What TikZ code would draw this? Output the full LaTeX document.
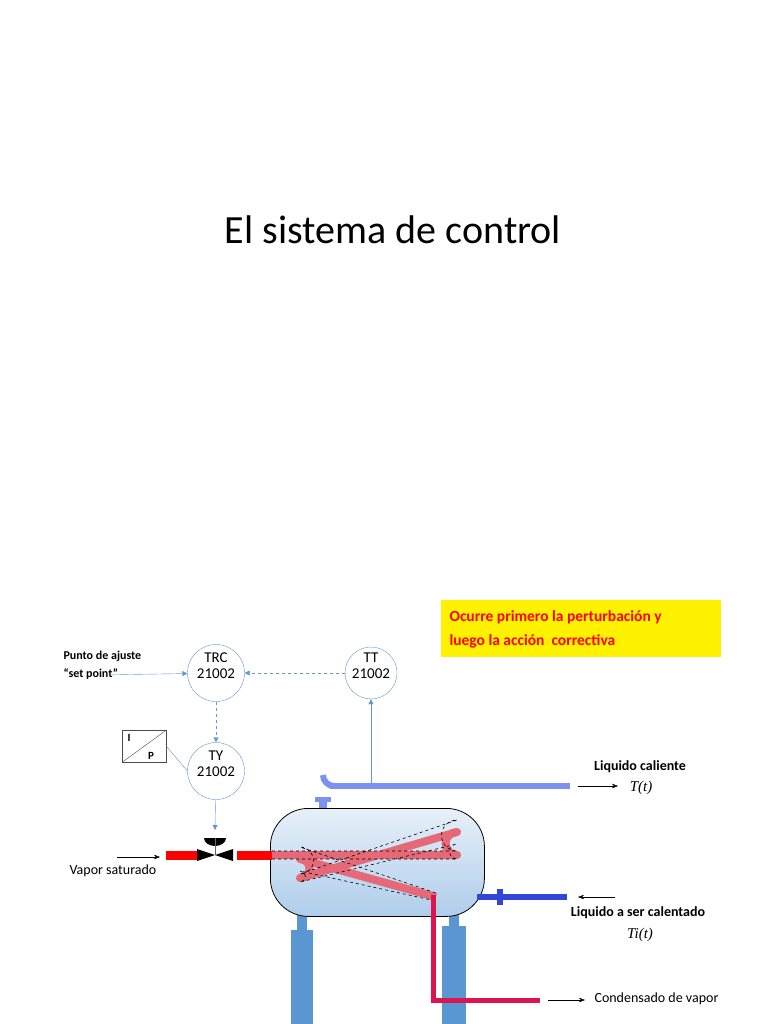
\documentclass[tikz,border=0pt]{standalone}
\usepackage{fontspec}
\setmainfont{Carlito}
\newfontfamily\tnr{Liberation Serif}
\usetikzlibrary{arrows.meta}
\definecolor{ln}{RGB}{100,150,210}
\definecolor{coil}{RGB}{230,105,120}
\definecolor{cond}{RGB}{220,20,80}
\definecolor{inl}{RGB}{50,70,220}
\definecolor{outl}{RGB}{125,145,240}
\definecolor{leg}{RGB}{90,150,210}
\definecolor{tnk}{RGB}{175,205,235}
\tikzset{inst/.style={circle,draw=ln,fill=white,minimum size=57pt,inner sep=0pt,align=center,font=\fontsize{15}{16}\selectfont,text height=12pt},
sig/.style={ln,-{Triangle[length=5pt,width=5pt]}},
blk/.style={-{Stealth[length=6pt]},black},
lbl/.style={font=\bfseries\fontsize{14}{15}\selectfont,align=center}}
\begin{document}
\begin{tikzpicture}[x=1pt,y=-1pt]
\useasboundingbox (0,0) rectangle (768,1024);
\node (title) at (393,230) {\fontsize{40}{44}\selectfont El sistema de control};
\node[fill=yellow,minimum width=280pt,minimum height=57pt,anchor=north west] (yb) at (441,600) {};
\node[anchor=west,text=red,font=\bfseries\fontsize{15.5}{24}\selectfont,align=left] (ytext) at (446,629) {Ocurre primero la perturbación y\\luego la acción\ \ correctiva};
% legs
\fill[leg] (297,912) rectangle (307,932);
\fill[leg] (291,930) rectangle (313,1024);
\fill[leg] (449,912) rectangle (459,928);
\fill[leg] (442,926) rectangle (466,1024);
% tank
\node[draw=black,thick,rounded corners=38pt,minimum width=214pt,minimum height=108pt,top color=tnk!30,bottom color=tnk,anchor=north west] (tank) at (270,808) {};
% coil
\draw[coil,line width=8pt,line join=round] (272,855) -- (457,855) arc (-90:90:-11.5) -- (300,878) arc (270:90:-9.5) -- (436,897);
\draw[black,dashed,line width=0.6pt] (272,851) -- (457,851) arc (-90:90:-15.5) -- (300,874) arc (270:90:-13.5) -- (436,893);
\draw[black,dashed,line width=0.6pt] (272,859) -- (457,859) arc (-90:90:-7.5) -- (300,882) arc (270:90:-5.5) -- (436,901);
% condensate
\draw[cond,line width=5pt] (433,895) -- (433,1000) -- (540,1000);
\draw[blk] (548,1000) -- (585,1000);
\node[anchor=west,font=\fontsize{14}{15}\selectfont] (ct) at (591,999) {Condensado de vapor};
% inlet
\draw[inl,line width=6pt] (477,897) -- (567,897);
\fill[inl] (497,889) rectangle (503,905);
\draw[blk] (615,897) -- (578,897);
\node[lbl] (lt) at (638,913) {Liquido a ser calentado};
\node[font=\tnr\itshape\fontsize{15}{16}\selectfont] (tit) at (640,935) {Ti(t)};
% outlet
\draw[outl,line width=6pt] (330,786) -- (570,786);
\draw[outl,line width=6pt] (334,786) arc (90:180:11);
\fill[outl] (315,797) rectangle (331,802);
\fill[outl] (319,802) rectangle (327,808);
\draw[blk] (578,786) -- (618,786);
\node[lbl] (lc) at (640,767) {Liquido caliente};
\node[font=\tnr\itshape\fontsize{15}{16}\selectfont] (tt2) at (641,788) {T(t)};
% instruments
\node[inst] (trc) at (216,673) {TRC\\21002};
\node[inst,minimum size=52pt] (tt) at (371,673) {TT\\21002};
\node[inst] (ty) at (216,771) {TY\\21002};
\coordinate (tap) at (371,783);
\draw[sig] (tap) -- (tt);
\draw[sig,dashed] (tt) -- (trc);
\draw[sig,dashed] (trc) -- (ty);
\node[anchor=west,font=\bfseries\fontsize{12}{18}\selectfont,align=left] (sp) at (60,665) {Punto de ajuste\\“set point”};
\coordinate (spa) at (102,675);
\draw[sig] (spa) -- (trc);
\node[draw=black!70,fill=white,minimum width=44pt,minimum height=32pt,anchor=north west] (ip) at (122,730) {};
\draw[black!70] (ip.south west) -- (ip.north east);
\node[font=\bfseries\fontsize{11}{12}\selectfont] at (129,738) {I};
\node[font=\bfseries\fontsize{11}{12}\selectfont] at (151,756) {P};
\draw[ln] (ip.east) -- (ty.west);
% valve
\coordinate (act) at (215,830);
\draw[sig] (ty) -- (act);
\fill[black] (204,838) arc (180:0:11 and 8) -- cycle;
\draw[black!60,line width=1pt] (215,838) -- (215,855);
\fill[red] (166,851) rectangle (200,860);
\fill[red] (237,851) rectangle (272,860);
\fill[black] (197,849) -- (197,861) -- (215,855) -- cycle;
\fill[black] (233,849) -- (233,861) -- (215,855) -- cycle;
\draw[blk] (117,857) -- (160,857);
\node[anchor=west,font=\fontsize{14}{15}\selectfont] (vs) at (66,871) {Vapor saturado};
\end{tikzpicture}
\end{document}
